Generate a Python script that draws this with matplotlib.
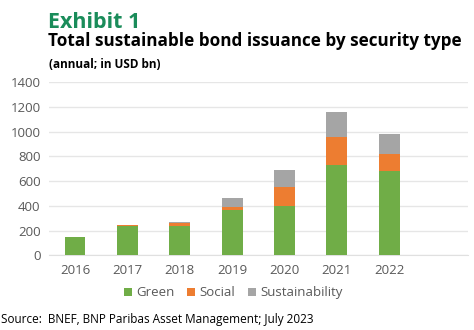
import matplotlib.pyplot as plt
import numpy as np

years = ['2016', '2017', '2018', '2019', '2020', '2021', '2022']
green = [148, 235, 240, 370, 400, 730, 685]
social = [0, 10, 22, 25, 152, 225, 138]
sustainability = [0, 2, 8, 65, 140, 205, 157]

GREEN = '#70ad47'
ORANGE = '#ed7d31'
GREY = '#a5a5a5'
TXT = '#595959'

plt.rcParams['font.family'] = ['Open Sans', 'DejaVu Sans']

fig = plt.figure(figsize=(4.74, 3.30), dpi=100)
ax = fig.add_axes([0.103, 0.226, 0.884, 0.525])

x = np.arange(len(years))
g = np.array(green)
s = np.array(social)
su = np.array(sustainability)
w = 0.4
ax.bar(x, g, w, color=GREEN, label='Green', zorder=3)
ax.bar(x, s, w, bottom=g, color=ORANGE, label='Social', zorder=3)
ax.bar(x, su, w, bottom=g + s, color=GREY, label='Sustainability', zorder=3)

# one empty slot on the right
ax.set_xlim(-0.5, len(years) + 0.5)
ax.set_ylim(0, 1400)
ax.set_yticks(range(0, 1401, 200))
ax.set_xticks(x)
ax.set_xticklabels(years)
ax.yaxis.grid(True, color='#e6e6e6', linewidth=1, zorder=0)
for sp in ax.spines.values():
    sp.set_visible(False)
ax.spines['bottom'].set_visible(True)
ax.spines['bottom'].set_color('#e0e0e0')
ax.tick_params(length=0, labelsize=9.5, labelcolor=TXT, pad=6)

ax.legend(loc='upper center', bbox_to_anchor=(0.44, -0.11), ncol=3, frameon=False,
          fontsize=9.5, labelcolor=TXT, handlelength=0.6, handleheight=0.6,
          handletextpad=0.3, columnspacing=1.0)

fig.text(0.101, 0.915, 'Exhibit 1', fontsize=15.5, fontweight='bold', color='#1a8c5a')
fig.text(0.101, 0.862, 'Total sustainable bond issuance by security type',
         fontsize=12.3, fontweight='bold', color='black')
fig.text(0.103, 0.795, '(annual; in USD bn)', fontsize=8.5, fontweight='bold', color='black')
fig.text(0.002, 0.02, 'Source:  BNEF, BNP Paribas Asset Management; July 2023',
         fontsize=8.5, color='black')

fig.savefig('out.png', dpi=100)
